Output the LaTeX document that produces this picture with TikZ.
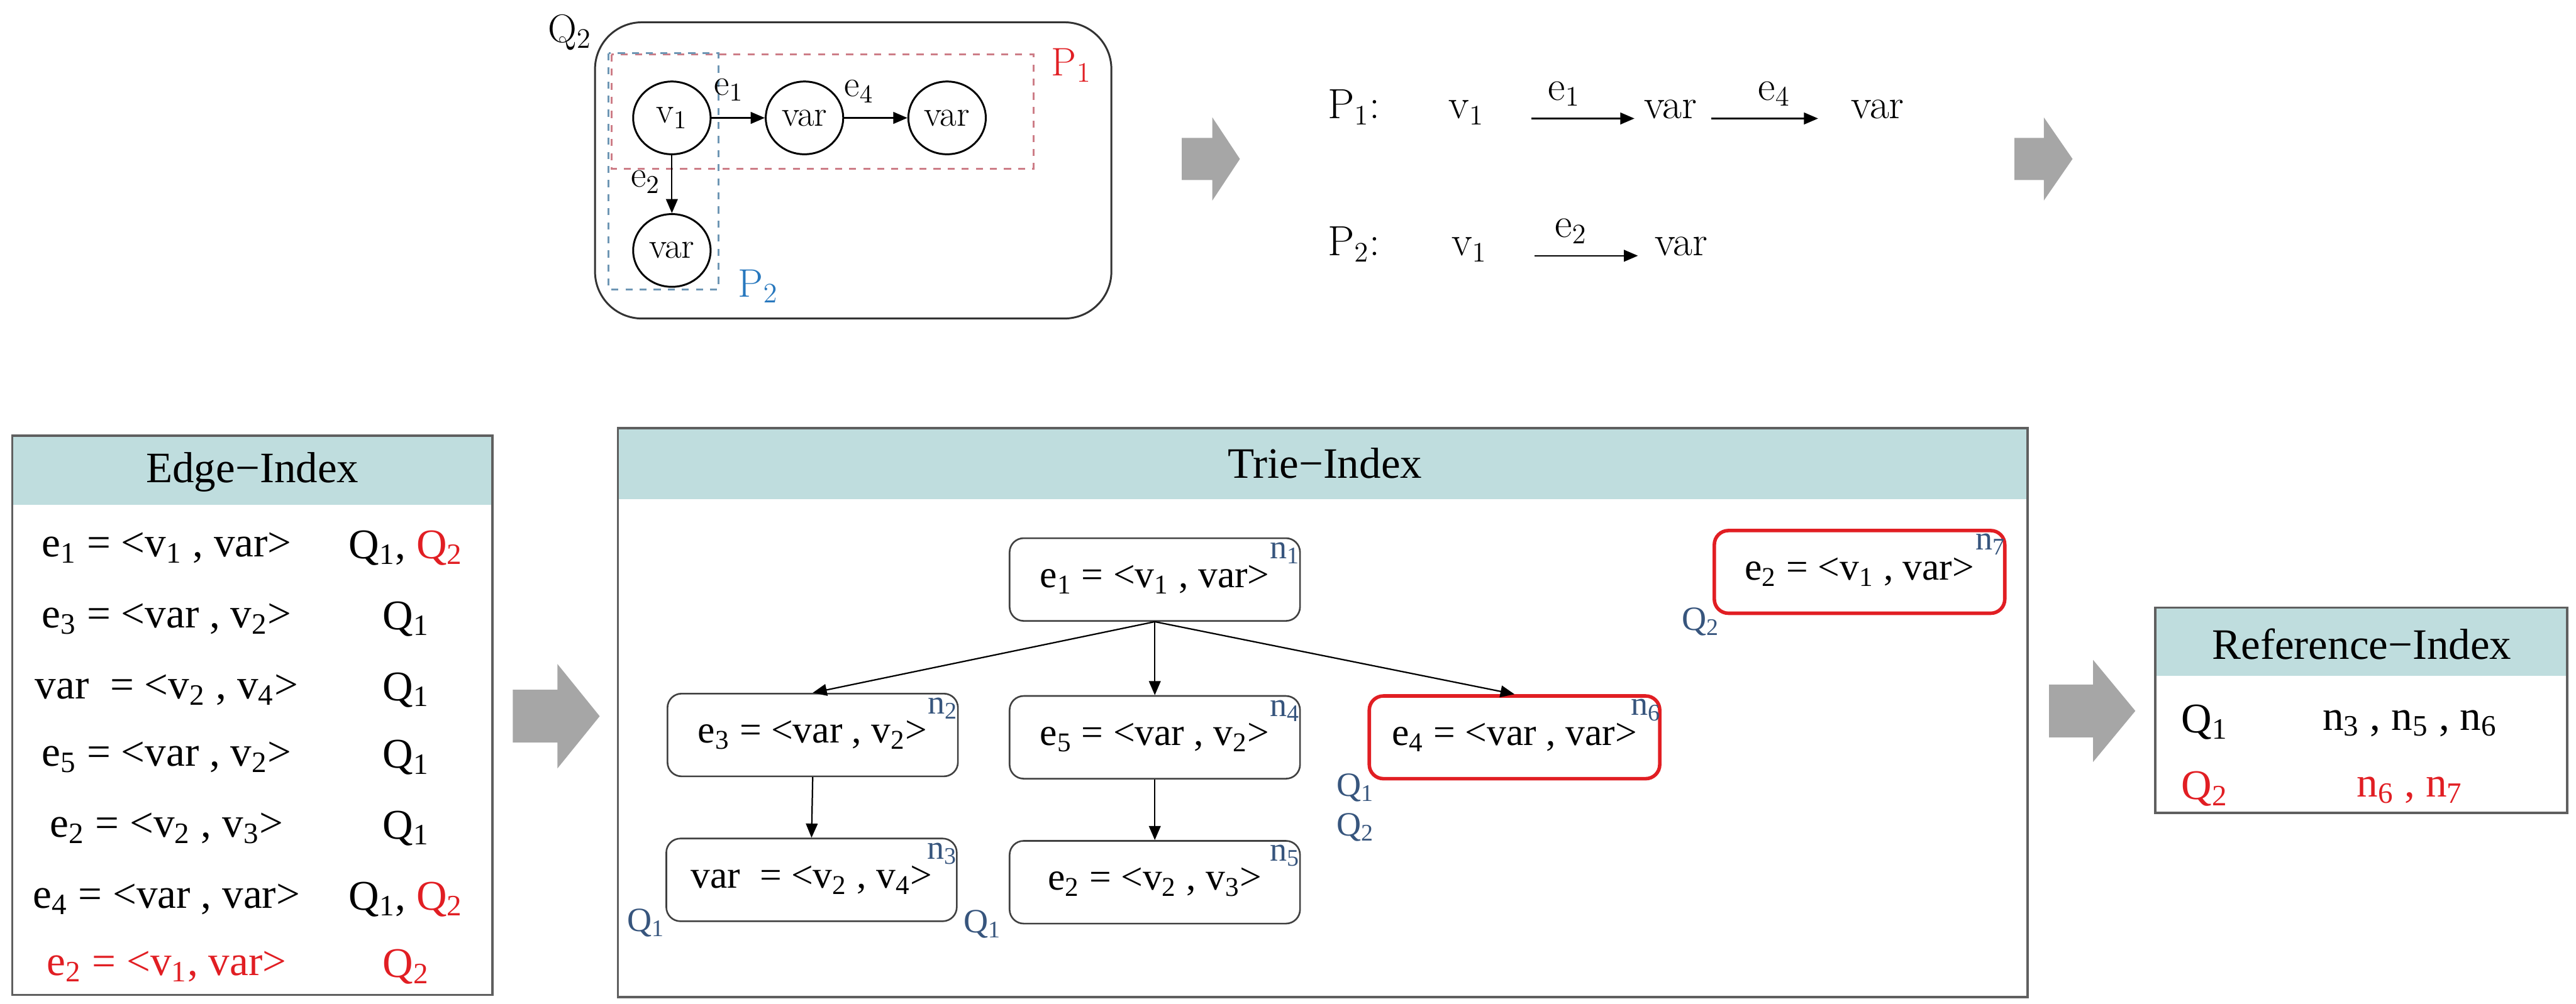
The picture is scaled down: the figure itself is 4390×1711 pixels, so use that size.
\documentclass[tikz,border=0pt]{standalone}
\usepackage{fontspec}
\newfontfamily\timesf{Liberation Serif}
\usetikzlibrary{arrows.meta,shapes.geometric}
\definecolor{hdrteal}{RGB}{191,221,222}
\definecolor{myred}{RGB}{225,30,35}
\definecolor{nblue}{RGB}{55,85,125}
\definecolor{pblue}{RGB}{40,120,190}
\definecolor{pOnedash}{RGB}{205,125,135}
\definecolor{pTwodash}{RGB}{110,150,180}
\definecolor{arrgray}{RGB}{166,166,166}
\definecolor{boxgray}{RGB}{95,95,95}
\newcommand{\sbs}[1]{\textsubscript{#1}}
\newcommand{\garrow}[6]{\fill[arrgray] (#1,#4-#5) -- (#2,#4-#5) -- (#2,#4-#6) -- (#3,#4) -- (#2,#4+#6) -- (#2,#4+#5) -- (#1,#4+#5) -- cycle;}
\tikzset{
  circ/.style={ellipse, draw, line width=0.8pt, minimum width=33pt, minimum height=31pt, inner sep=0pt, font=\fontsize{15.5}{17}\selectfont},
  garr/.style={-{Triangle[length=6pt,width=5pt]}, line width=0.6pt},
  elab/.style={font=\fontsize{16}{18}\selectfont, inner sep=0pt},
  trtext/.style={font=\fontsize{18}{20}\selectfont, inner sep=0pt, anchor=base},
  tnode/.style={draw=black!75, rounded corners=6pt, minimum width=123.75pt, minimum height=35.25pt, inner sep=0pt, line width=0.7pt, font=\timesf\fontsize{16.5}{18}\selectfont},
  rnode/.style={tnode, draw=myred, line width=1.5pt},
  nlab/.style={font=\timesf\fontsize{14.5}{16}\selectfont, text=nblue, inner sep=0pt},
  body/.style={font=\timesf\fontsize{18}{20}\selectfont, inner sep=0pt},
  hdr/.style={font=\timesf\fontsize{18.5}{20}\selectfont, inner sep=0pt},
  panel/.style={draw=boxgray, line width=1pt},
}
\begin{document}
\begin{tikzpicture}[x=0.25pt, y=-0.25pt]
\useasboundingbox (0,0) rectangle (4390,1711);

% ---------- top left: query graph Q2 ----------
\draw[line width=0.8pt, black!80, rounded corners=20pt] (1014,38) rectangle (1894,543);
\node[font=\fontsize{17}{19}\selectfont, inner sep=0pt] (q2lab) at (971,55) {$\mathrm{Q}_2$};
\draw[pOnedash, dashed, line width=0.8pt] (1042,93) rectangle (1761,288);
\draw[pTwodash, dashed, line width=0.8pt] (1037,91) rectangle (1224,494);
\node[font=\fontsize{17}{19}\selectfont, text=myred, inner sep=0pt] (p1lab) at (1826,111) {$\mathrm{P}_1$};
\node[font=\fontsize{17}{19}\selectfont, text=pblue, inner sep=0pt] (p2lab) at (1292,488) {$\mathrm{P}_2$};
\node[circ] (gv1) at (1145,201) {$\mathrm{v}_1$};
\node[circ] (gva) at (1371,201) {var};
\node[circ] (gvb) at (1614,201) {var};
\node[circ] (gvc) at (1145,427) {var};
\draw[garr] (gv1) -- (gva);
\draw[garr] (gva) -- (gvb);
\draw[garr] (gv1) -- (gvc);
\node[elab] (ge1) at (1242,153) {$\mathrm{e}_1$};
\node[elab] (ge4) at (1464,156) {$\mathrm{e}_4$};
\node[elab] (ge2) at (1100,310) {$\mathrm{e}_2$};

% ---------- gray arrows ----------
\garrow{2014}{2066}{2113}{271}{36}{71}
\garrow{3433}{3483}{3532}{271}{36}{71}
\garrow{874}{950}{1022}{1221}{45}{89}
\garrow{3492}{3567}{3639}{1212}{45}{87}

% ---------- top right: paths ----------
\node[trtext] (r1p) at (2307,202) {P$_1$:};
\node[trtext] (r1v) at (2499,202) {v$_1$};
\node[trtext] (r1a) at (2847,202) {var};
\node[trtext] (r1b) at (3200,202) {var};
\draw[garr, shorten <=20pt, shorten >=4pt] (r1v.base east) -- (r1a.base west)
  node[midway, above=5pt, font=\fontsize{18}{20}\selectfont, inner sep=0pt] {e$_1$};
\draw[garr, shorten <=6pt, shorten >=14pt] (r1a.base east) -- (r1b.base west)
  node[midway, above=5pt, font=\fontsize{18}{20}\selectfont, inner sep=0pt] {e$_4$};
\node[trtext] (r2p) at (2307,436) {P$_2$:};
\node[trtext] (r2v) at (2504,436) {v$_1$};
\node[trtext] (r2a) at (2865,436) {var};
\draw[garr, shorten <=20pt, shorten >=7pt] (r2v.base east) -- (r2a.base west)
  node[midway, above=5pt, font=\fontsize{18}{20}\selectfont, inner sep=0pt] {e$_2$};

% ---------- Edge-Index ----------
\fill[hdrteal] (21,743) rectangle (839,861);
\draw[panel] (21,743) rectangle (839,1696);
\node[hdr] (ehdr) at (430,805) {Edge−Index};
\node[body] (el1) at (284,934) {e\sbs{1} = <v\sbs{1} , var>};
\node[body] (er1) at (692,934) {Q\sbs{1}, \textcolor{myred}{Q\sbs{2}}};
\node[body] (el2) at (284,1055) {e\sbs{3} = <var , v\sbs{2}>};
\node[body] (er2) at (692,1055) {Q\sbs{1}};
\node[body] (el3) at (284,1176) {var \ = <v\sbs{2} , v\sbs{4}>};
\node[body] (er3) at (692,1176) {Q\sbs{1}};
\node[body] (el4) at (284,1291) {e\sbs{5} = <var , v\sbs{2}>};
\node[body] (er4) at (692,1291) {Q\sbs{1}};
\node[body] (el5) at (284,1412) {e\sbs{2} = <v\sbs{2} , v\sbs{3}>};
\node[body] (er5) at (692,1412) {Q\sbs{1}};
\node[body] (el6) at (284,1533) {e\sbs{4} = <var , var>};
\node[body] (er6) at (692,1533) {Q\sbs{1}, \textcolor{myred}{Q\sbs{2}}};
\node[body, text=myred] (el7) at (284,1648) {e\sbs{2} = <v\sbs{1}, var>};
\node[body, text=myred] (er7) at (692,1648) {Q\sbs{2}};

% ---------- Trie-Index ----------
\fill[hdrteal] (1053,730) rectangle (3455,851);
\draw[panel] (1053,730) rectangle (3455,1700);
\node[hdr] (thdr) at (2258,790) {Trie−Index};
\node[tnode] (n1) at (1968,988) {e\sbs{1} = <v\sbs{1} , var>};
\node[tnode] (n2) at (1385,1253) {e\sbs{3} = <var , v\sbs{2}>};
\node[tnode] (n3) at (1383,1500) {var \ = <v\sbs{2} , v\sbs{4}>};
\node[tnode] (n4) at (1968,1257) {e\sbs{5} = <var , v\sbs{2}>};
\node[tnode] (n5) at (1968,1504) {e\sbs{2} = <v\sbs{2} , v\sbs{3}>};
\node[rnode] (n6) at (2581,1257) {e\sbs{4} = <var , var>};
\node[rnode] (n7) at (3169,975) {e\sbs{2} = <v\sbs{1} , var>};
\draw[garr] (n1.south) -- (n2.north);
\draw[garr] (n1.south) -- (n4.north);
\draw[garr] (n1.south) -- (n6.north);
\draw[garr] (n2.south) -- (n3.north);
\draw[garr] (n4.south) -- (n5.north);
\node[nlab, anchor=north east] (l1) at ([yshift=-2pt]n1.north east) {n\sbs{1}};
\node[nlab, anchor=north east] (l2) at ([yshift=-2pt]n2.north east) {n\sbs{2}};
\node[nlab, anchor=north east] (l3) at ([yshift=-2pt]n3.north east) {n\sbs{3}};
\node[nlab, anchor=north east] (l4) at ([yshift=-2pt]n4.north east) {n\sbs{4}};
\node[nlab, anchor=north east] (l5) at ([yshift=-2pt]n5.north east) {n\sbs{5}};
\node[nlab, anchor=north east] (l6) at ([yshift=-2pt]n6.north east) {n\sbs{6}};
\node[nlab, anchor=north east] (l7) at ([yshift=-2pt]n7.north east) {n\sbs{7}};
\node[nlab] (q3) at (1101,1573) {Q\sbs{1}};
\node[nlab] (q5) at (1675,1575) {Q\sbs{1}};
\node[nlab] (q6a) at (2310,1343) {Q\sbs{1}};
\node[nlab] (q6b) at (2310,1410) {Q\sbs{2}};
\node[nlab] (q7) at (2898,1060) {Q\sbs{2}};

% ---------- Reference-Index ----------
\fill[hdrteal] (3673,1036) rectangle (4375,1152);
\draw[panel] (3673,1036) rectangle (4375,1386);
\node[hdr] (rhdr) at (4025,1098) {Reference−Index};
\node[body] (rq1) at (3757,1231) {Q\sbs{1}};
\node[body] (rn1) at (4107,1233) {n\sbs{3} , n\sbs{5} , n\sbs{6}};
\node[body, text=myred] (rq2) at (3757,1345) {Q\sbs{2}};
\node[body, text=myred] (rn2) at (4107,1347) {n\sbs{6} , n\sbs{7}};
\end{tikzpicture}
\end{document}
